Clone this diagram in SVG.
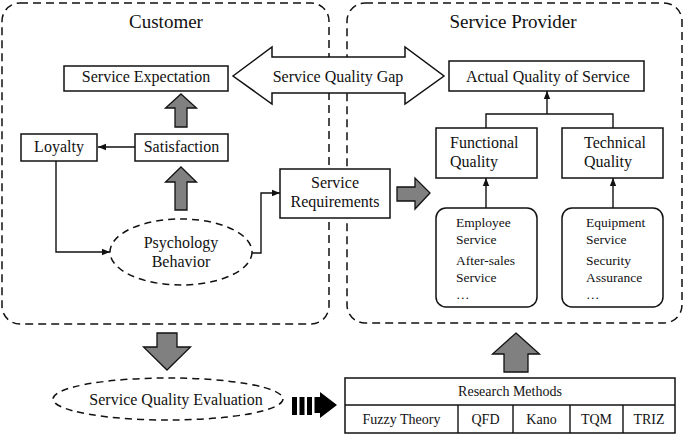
<svg xmlns="http://www.w3.org/2000/svg" width="685" height="435" viewBox="0 0 685 435">
<defs>
<style>
text{font-family:"Liberation Serif","Times New Roman",serif;fill:#111}
.t{font-size:16px}
.s{font-size:13.5px}
.m{font-size:14px}
.h{font-size:19px}
.mid{text-anchor:middle}
.box{fill:#fff;stroke:#111;stroke-width:1.5}
.cont{fill:none;stroke:#111;stroke-width:1.5;stroke-dasharray:8 5}
.dell{fill:#fff;stroke:#111;stroke-width:1.5;stroke-dasharray:7 5}
.gray{fill:#808080;stroke:#111;stroke-width:1.3}
.ln{fill:none;stroke:#111;stroke-width:1.4}
</style>
<marker id="ah" viewBox="0 0 10 10" refX="10" refY="5" markerWidth="8" markerHeight="8" markerUnits="userSpaceOnUse" orient="auto">
<path d="M0,1 L10,5 L0,9 z" fill="#111"/>
</marker>
</defs>

<g id="customer-area">
<rect class="cont" x="2" y="3" width="327" height="321" rx="18"/>
<text class="h mid" x="166" y="28">Customer</text>
</g>
<g id="provider-area">
<rect class="cont" x="347" y="3" width="335" height="320" rx="18"/>
<text class="h mid" x="513" y="28">Service Provider</text>
</g>

<g id="connectors">
<line class="ln" x1="135" y1="147" x2="98" y2="147" marker-end="url(#ah)"/>
<path class="ln" d="M56,161 V252 H110" marker-end="url(#ah)"/>
<path class="ln" d="M251,253 H261 V193 H280" marker-end="url(#ah)"/>
<path class="ln" d="M486,128 V114 H613 V128"/>
<line class="ln" x1="547" y1="114" x2="547" y2="91" marker-end="url(#ah)"/>
<line class="ln" x1="486" y1="208" x2="486" y2="178" marker-end="url(#ah)"/>
<line class="ln" x1="613" y1="208" x2="613" y2="178" marker-end="url(#ah)"/>
<polygon class="gray" points="181,94 196.5,108 187,108 187,127 175,127 175,108 165.5,108"/>
<polygon class="gray" points="181,167 196.5,182 187,182 187,210 175,210 175,182 165.5,182"/>
<polygon class="gray" points="397,187 415,187 415,178 430,193 415,209 415,201 397,201"/>
<polygon class="gray" points="157,333 177,333 177,347 190.5,347 167,370 143.5,347 157,347"/>
<polygon class="gray" points="516,333 539.5,354 528,354 528,372 504,372 504,354 492.5,354"/>
<g fill="#000">
<rect x="292" y="397" width="5" height="18"/>
<rect x="299.5" y="397" width="5" height="18"/>
<rect x="307" y="397" width="5" height="18"/>
<polygon points="314.5,397 320,397 320,392 337,405 320,418 320,413 314.5,413"/>
</g>
</g>

<g id="gap">
<polygon class="box" points="233,76 272,47 272,57 405,57 405,47 444,76 405,104 405,93 272,93 272,104"/>
<text class="t mid" x="338" y="82">Service Quality Gap</text>
</g>

<g id="service-expectation">
<rect class="box" x="64" y="66" width="164" height="25"/>
<text class="t mid" x="146" y="82">Service Expectation</text>
</g>
<g id="loyalty">
<rect class="box" x="21" y="134" width="76" height="27"/>
<text class="t mid" x="59" y="152">Loyalty</text>
</g>
<g id="satisfaction">
<rect class="box" x="135" y="134" width="93" height="27"/>
<text class="t mid" x="181.5" y="152">Satisfaction</text>
</g>
<g id="psychology-behavior">
<ellipse class="dell" cx="181" cy="252" rx="71" ry="33"/>
<text class="t mid" x="181" y="248">Psychology</text>
<text class="t mid" x="181" y="267">Behavior</text>
</g>
<g id="service-requirements">
<rect class="box" x="280" y="169" width="110" height="49"/>
<text class="t mid" x="335" y="188">Service</text>
<text class="t mid" x="335" y="207">Requirements</text>
</g>
<g id="actual-quality">
<rect class="box" x="449" y="61" width="195" height="30"/>
<text class="t mid" x="548" y="82">Actual Quality of Service</text>
</g>
<g id="functional-quality">
<rect class="box" x="436" y="128" width="101" height="50"/>
<text class="t" x="450" y="148">Functional</text>
<text class="t" x="450" y="167">Quality</text>
</g>
<g id="technical-quality">
<rect class="box" x="562" y="128" width="101" height="50"/>
<text class="t" x="584" y="148">Technical</text>
<text class="t" x="584" y="167">Quality</text>
</g>
<g id="functional-details">
<rect class="box" x="436" y="208" width="101" height="99" rx="10"/>
<text class="s" x="456" y="227">Employee</text>
<text class="s" x="456" y="244">Service</text>
<text class="s" x="456" y="265">After-sales</text>
<text class="s" x="456" y="282">Service</text>
<text class="s" x="456" y="299">…</text>
</g>
<g id="technical-details">
<rect class="box" x="562" y="208" width="101" height="99" rx="10"/>
<text class="s" x="586" y="227">Equipment</text>
<text class="s" x="586" y="244">Service</text>
<text class="s" x="586" y="265">Security</text>
<text class="s" x="586" y="282">Assurance</text>
<text class="s" x="586" y="299">…</text>
</g>
<g id="service-quality-evaluation">
<ellipse class="dell" cx="168" cy="399" rx="115" ry="21"/>
<text class="t mid" x="176" y="405">Service Quality Evaluation</text>
</g>
<g id="research-methods">
<rect class="box" x="345" y="378" width="330" height="55"/>
<line class="ln" x1="345" y1="405" x2="675" y2="405"/>
<line class="ln" x1="458" y1="405" x2="458" y2="433"/>
<line class="ln" x1="513" y1="405" x2="513" y2="433"/>
<line class="ln" x1="570" y1="405" x2="570" y2="433"/>
<line class="ln" x1="623" y1="405" x2="623" y2="433"/>
<text class="m mid" x="510" y="396">Research Methods</text>
<text class="m mid" x="401.5" y="424">Fuzzy Theory</text>
<text class="m mid" x="485.5" y="424">QFD</text>
<text class="m mid" x="541.5" y="424">Kano</text>
<text class="m mid" x="596.5" y="424">TQM</text>
<text class="m mid" x="649" y="424">TRIZ</text>
</g>
</svg>
